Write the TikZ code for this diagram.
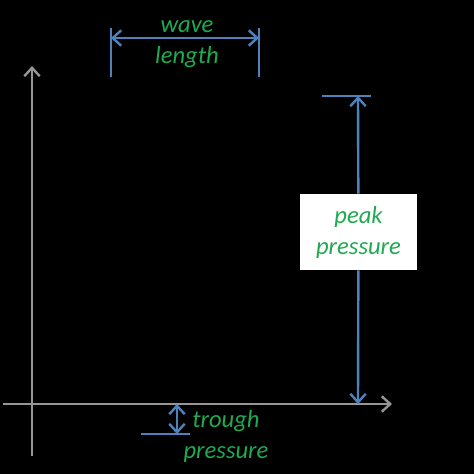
\documentclass[tikz,border=0pt]{standalone}
\usepackage{fontspec}
\setmainfont{Carlito}
\usepackage{xcolor}
\usetikzlibrary{arrows.meta,positioning}
\definecolor{axisgray}{RGB}{150,150,150}
\definecolor{dimblue}{RGB}{79,129,189}
\definecolor{labelgreen}{RGB}{30,170,80}
\begin{document}
\begin{tikzpicture}[x=0.025cm, y=-0.025cm,
  barb/.tip={Straight Barb[length=6pt,width=11pt,line width=1.7pt]},
  axis/.style={draw=axisgray, line width=1.7pt, -barb},
  dim/.style={draw=dimblue, line width=1.7pt},
  lbl/.style={text=labelgreen, font=\itshape\fontsize{17.5}{22}\selectfont, align=center, inner sep=0pt}]
\fill[black] (0,0) rectangle (474,474);
\useasboundingbox (0,0) rectangle (474,474);
% axes
\coordinate (ybot) at (32,456);
\coordinate (ytop) at (32,66);
\coordinate (xleft) at (3,404);
\coordinate (xright) at (392,404);
\draw[axis] (ybot) -- (ytop);
\draw[axis] (xleft) -- (xright);
% wave length
\coordinate (wl1) at (111,28);
\coordinate (wl1b) at (111,77);
\coordinate (wl2) at (259,28);
\coordinate (wl2b) at (259,77);
\coordinate (wla) at (111,38);
\coordinate (wlb) at (259,38);
\draw[dim] (wl1) -- (wl1b);
\draw[dim] (wl2) -- (wl2b);
\draw[dim, barb-barb] (wla) -- (wlb);
\node[lbl] (wave) at (187,44) {wave\\length};
% peak pressure
\coordinate (pk1) at (322,96);
\coordinate (pk2) at (371,96);
\coordinate (pktop) at (358,96);
\coordinate (pkbot) at (358,404);
\draw[dim] (pk1) -- (pk2);
\node[lbl, fill=white, minimum width=2.925cm, minimum height=1.9cm] (peak) at (358.5,232) {peak\\pressure};
\draw[dim, barb-] (pktop) -- (peak);
\draw[dim, -barb] (peak) -- (pkbot);
% trough pressure
\coordinate (tr1) at (141,434);
\coordinate (tr2) at (190,434);
\coordinate (trtop) at (177,404);
\coordinate (trbot) at (177,434);
\draw[dim] (tr1) -- (tr2);
\draw[dim, barb-barb] (trtop) -- (trbot);
\node[lbl] (trough) at (226,436) {trough\\pressure};
\end{tikzpicture}
\end{document}
